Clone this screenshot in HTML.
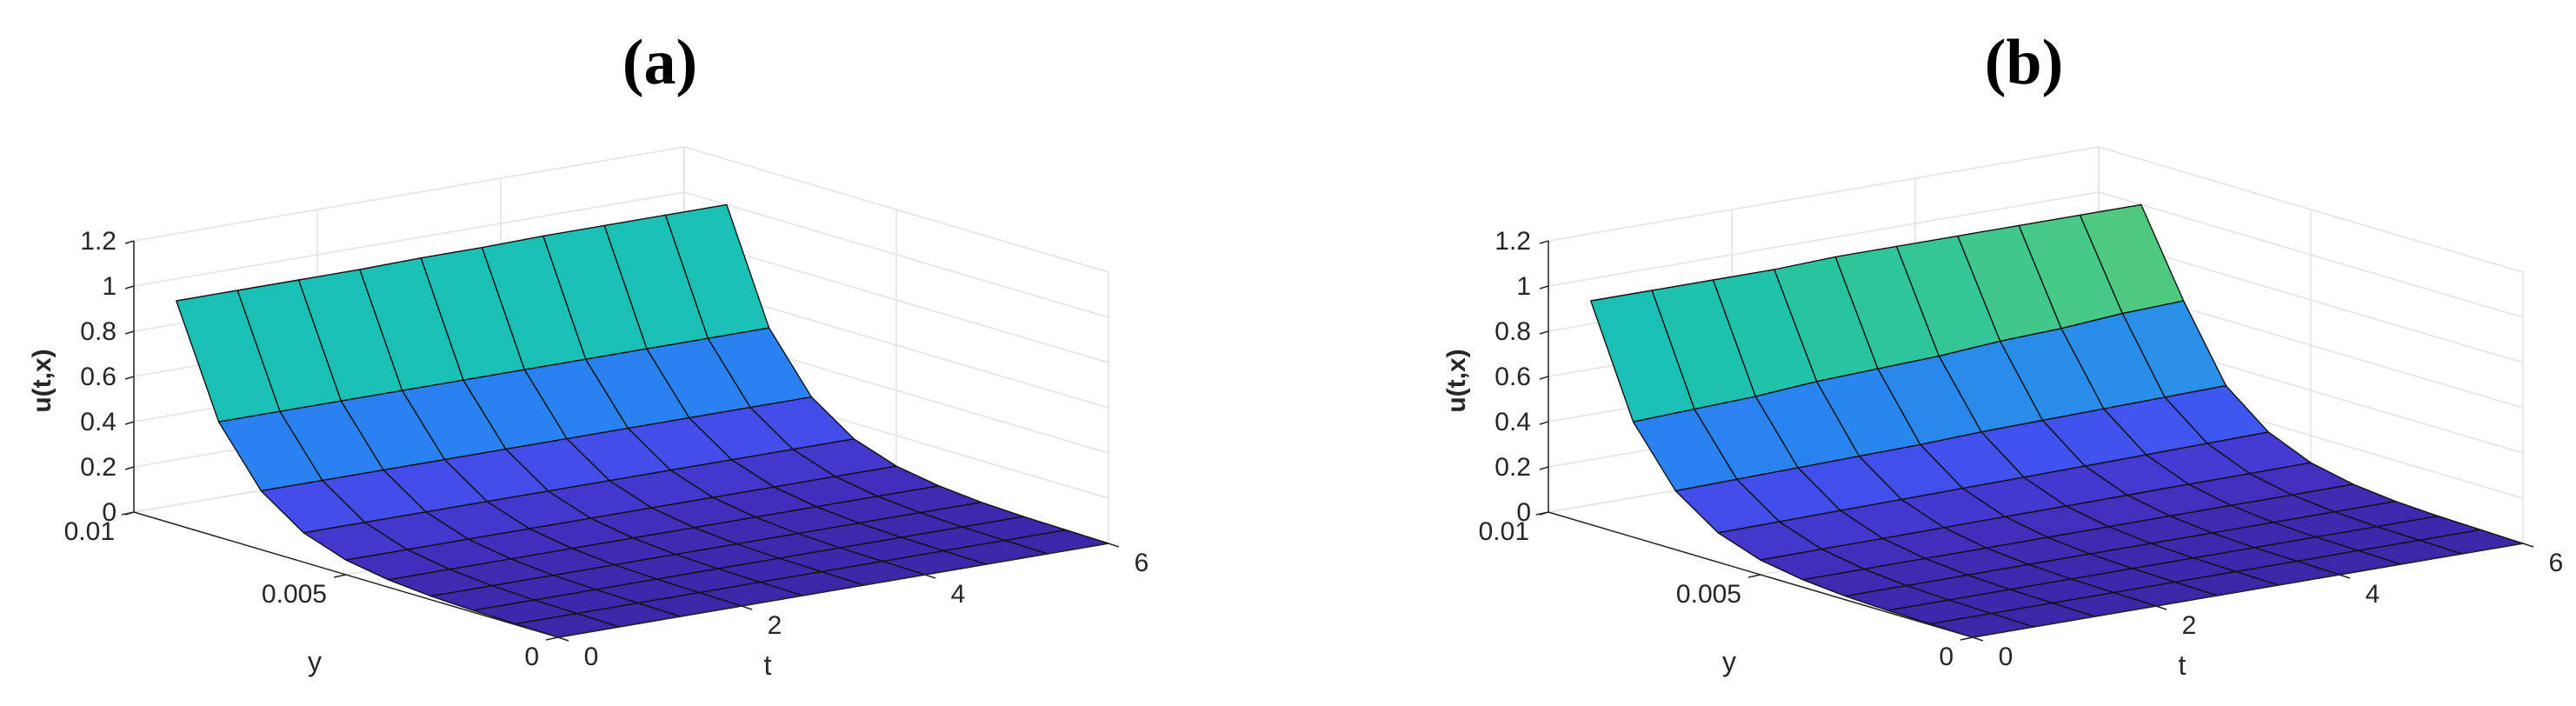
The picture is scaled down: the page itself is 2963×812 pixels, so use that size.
<!DOCTYPE html>
<html><head><meta charset="utf-8">
<style>
html,body{margin:0;padding:0;background:#fff;}
svg{display:block;}
text{font-family:"Liberation Sans",sans-serif;fill:#262626;}
.title{font-family:"Liberation Serif",serif;font-weight:bold;font-size:74px;fill:#000;}
</style></head>
<body>
<svg id="fig" width="2963" height="812" viewBox="0 0 2963 812" xmlns="http://www.w3.org/2000/svg">
<text class="title" x="759" y="96" text-anchor="middle">(a)</text>
<text class="title" x="2328" y="96" text-anchor="middle">(b)</text>
<g id="pa"></g>
<g id="pb"></g>
</svg>
<script>
const tVals=[0,0.6667,1.3333,2,2.6667,3.3333,4,4.6667,5.3333,6];
const yVals=[0,0.001,0.002,0.003,0.004,0.005,0.006,0.007,0.008,0.009];
const zTicks=[0,0.2,0.4,0.6,0.8,1,1.2];
const zTickLabels=["0","0.2","0.4","0.6","0.8","1","1.2"];
const tTicks=[0,2,4,6];
const tTickLabels=["0","2","4","6"];
const yTicks=[0,0.005,0.01];
const yTickLabels=["0","0.005","0.01"];
// rows indexed by y (yVals), columns by t (tVals)
const uA=[
[0,0,0,0,0,0,0,0,0,0],
[0.004,0.004,0.004,0.004,0.004,0.004,0.004,0.004,0.004,0.004],
[0.008,0.008,0.008,0.008,0.008,0.008,0.008,0.008,0.008,0.008],
[0.016,0.016,0.016,0.016,0.016,0.016,0.016,0.016,0.016,0.016],
[0.033,0.033,0.033,0.033,0.033,0.033,0.033,0.033,0.033,0.033],
[0.065,0.065,0.065,0.065,0.065,0.065,0.065,0.065,0.065,0.065],
[0.13,0.13,0.13,0.13,0.13,0.13,0.13,0.13,0.13,0.13],
[0.26,0.26,0.26,0.26,0.26,0.26,0.26,0.26,0.26,0.26],
[0.51,0.51,0.51,0.51,0.51,0.51,0.51,0.51,0.51,0.51],
[0.99,0.99,0.99,0.99,0.995,0.995,1.0,1.0,1.0,1.0]];
const uB=[
[0,0,0,0,0,0,0,0,0,0],
[0.004,0.004,0.004,0.004,0.0045,0.0045,0.0045,0.005,0.005,0.005],
[0.008,0.008,0.0085,0.0085,0.009,0.009,0.009,0.0095,0.0095,0.01],
[0.016,0.0165,0.017,0.0175,0.018,0.018,0.0185,0.019,0.0195,0.02],
[0.033,0.034,0.035,0.035,0.036,0.037,0.038,0.039,0.039,0.04],
[0.065,0.067,0.068,0.07,0.072,0.073,0.075,0.077,0.078,0.08],
[0.13,0.133,0.136,0.139,0.142,0.145,0.148,0.152,0.156,0.16],
[0.26,0.265,0.27,0.275,0.28,0.29,0.295,0.30,0.305,0.31],
[0.51,0.52,0.53,0.55,0.56,0.57,0.59,0.60,0.62,0.63],
[0.99,0.99,0.99,0.99,1.0,1.0,1.0,1.0,1.0,1.0]];

const NS="http://www.w3.org/2000/svg";
const parula=[[0,62,38,168],[0.05,67,50,195],[0.1,68,66,225],[0.15,64,84,240],[0.2,55,105,250],[0.25,42,126,245],[0.3,42,142,232],[0.35,35,155,225],[0.4,25,170,212],[0.45,20,182,198],[0.5,23,191,184],[0.55,40,196,160],[0.6,70,200,135],[0.65,90,203,115],[0.7,130,200,95],[0.8,200,190,60],[0.9,250,190,45],[1,249,251,14]];
function cmap(v){v=Math.max(0,Math.min(1,v));for(let i=1;i<parula.length;i++){const a=parula[i-1],b=parula[i];if(v<=b[0]){const f=(v-a[0])/(b[0]-a[0]);return `rgb(${Math.round(a[1]+f*(b[1]-a[1]))},${Math.round(a[2]+f*(b[2]-a[2]))},${Math.round(a[3]+f*(b[3]-a[3]))})`;}}return "rgb(249,251,14)";}
function mk(g,tag,attrs){const e=document.createElementNS(NS,tag);for(const k in attrs)e.setAttribute(k,attrs[k]);g.appendChild(e);return e;}

function drawPanel(gid,dx,U){
  const g=document.getElementById(gid);
  const O=[642+dx,733];
  const proj=(t,y,z)=>[O[0]+t*105.5-(y/0.001)*48.8, O[1]-t*18-(y/0.001)*14.4-z*260];
  const gridC="#e2e2e2";
  zTicks.forEach(z=>{
    const a=proj(0,0.01,z),b=proj(6,0.01,z),c=proj(6,0,z);
    const l=mk(g,"polyline",{points:`${a} ${b} ${c}`,fill:"none",stroke:gridC,"stroke-width":1.5});
    
    
  });
  tTicks.forEach(t=>{
    const a=proj(t,0,0),b=proj(t,0.01,0),c=proj(t,0.01,1.2);
    const l=mk(g,"polyline",{points:`${a} ${b} ${c}`,fill:"none",stroke:gridC,"stroke-width":1.5});
    
    
  });
  yTicks.forEach(y=>{
    const a=proj(0,y,0),b=proj(6,y,0),c=proj(6,y,1.2);
    const l=mk(g,"polyline",{points:`${a} ${b} ${c}`,fill:"none",stroke:gridC,"stroke-width":1.5});
    
    
  });
  let zmax=0;U.forEach(r=>r.forEach(v=>{if(v>zmax)zmax=v;}));
  const quads=[];
  for(let k=0;k<yVals.length-1;k++)for(let i=0;i<tVals.length-1;i++)quads.push([k,i]);
  quads.sort((p,q)=>(q[0]+q[1])-(p[0]+p[1]));
  quads.forEach(([k,i])=>{
    const p1=proj(tVals[i],yVals[k],U[k][i]),p2=proj(tVals[i+1],yVals[k],U[k][i+1]),
          p3=proj(tVals[i+1],yVals[k+1],U[k+1][i+1]),p4=proj(tVals[i],yVals[k+1],U[k+1][i]);
    const f=mk(g,"polygon",{points:`${p1} ${p2} ${p3} ${p4}`,fill:cmap(U[k][i]/zmax),stroke:"#111","stroke-width":1.4,"stroke-linejoin":"round"});
    
    
  });
  const ax="#262626";
  const A0=proj(0,0.01,0),A1=proj(0,0.01,1.2),R0=proj(6,0,0);
  let e=mk(g,"line",{x1:A0[0],y1:A0[1],x2:A1[0],y2:A1[1],stroke:ax,"stroke-width":1.5});
  
  e=mk(g,"line",{x1:A0[0],y1:A0[1],x2:O[0],y2:O[1],stroke:ax,"stroke-width":1.5});
  
  e=mk(g,"line",{x1:O[0],y1:O[1],x2:R0[0],y2:R0[1],stroke:ax,"stroke-width":1.5});
  
  const fs=30;
  zTicks.forEach((z,j)=>{
    const p=proj(0,0.01,z);
    mk(g,"line",{x1:p[0],y1:p[1],x2:p[0]-10,y2:p[1]+3,stroke:ax,"stroke-width":1.5});
    const t=mk(g,"text",{x:p[0]-20,y:p[1]+10,"text-anchor":"end","font-size":fs});
    t.textContent=zTickLabels[j];
    
    
  });
  yTicks.forEach((y,j)=>{
    const p=proj(0,y,0);
    mk(g,"line",{x1:p[0],y1:p[1],x2:p[0]-14,y2:p[1]+3,stroke:ax,"stroke-width":1.5});
    const t=mk(g,"text",{x:p[0]-22,y:p[1]+32,"text-anchor":"end","font-size":fs});
    t.textContent=yTickLabels[j];
    
    
  });
  tTicks.forEach((tt,j)=>{
    const p=proj(tt,0,0);
    mk(g,"line",{x1:p[0],y1:p[1],x2:p[0]+12,y2:p[1]+4,stroke:ax,"stroke-width":1.5});
    const t=mk(g,"text",{x:p[0]+38,y:p[1]+32,"text-anchor":"middle","font-size":fs});
    t.textContent=tTickLabels[j];
    
    
  });
  let l=mk(g,"text",{x:362+dx,y:772,"text-anchor":"middle","font-size":32});l.textContent="y";
  
  l=mk(g,"text",{x:883+dx,y:776,"text-anchor":"middle","font-size":32});l.textContent="t";
  
  l=mk(g,"text",{x:0,y:0,"text-anchor":"middle","font-size":30,"font-weight":"bold",transform:`translate(${58+dx},438) rotate(-90)`});l.textContent="u(t,x)";
  
}
drawPanel("pa",0,uA);
drawPanel("pb",1627,uB);
</script>
</body></html>
